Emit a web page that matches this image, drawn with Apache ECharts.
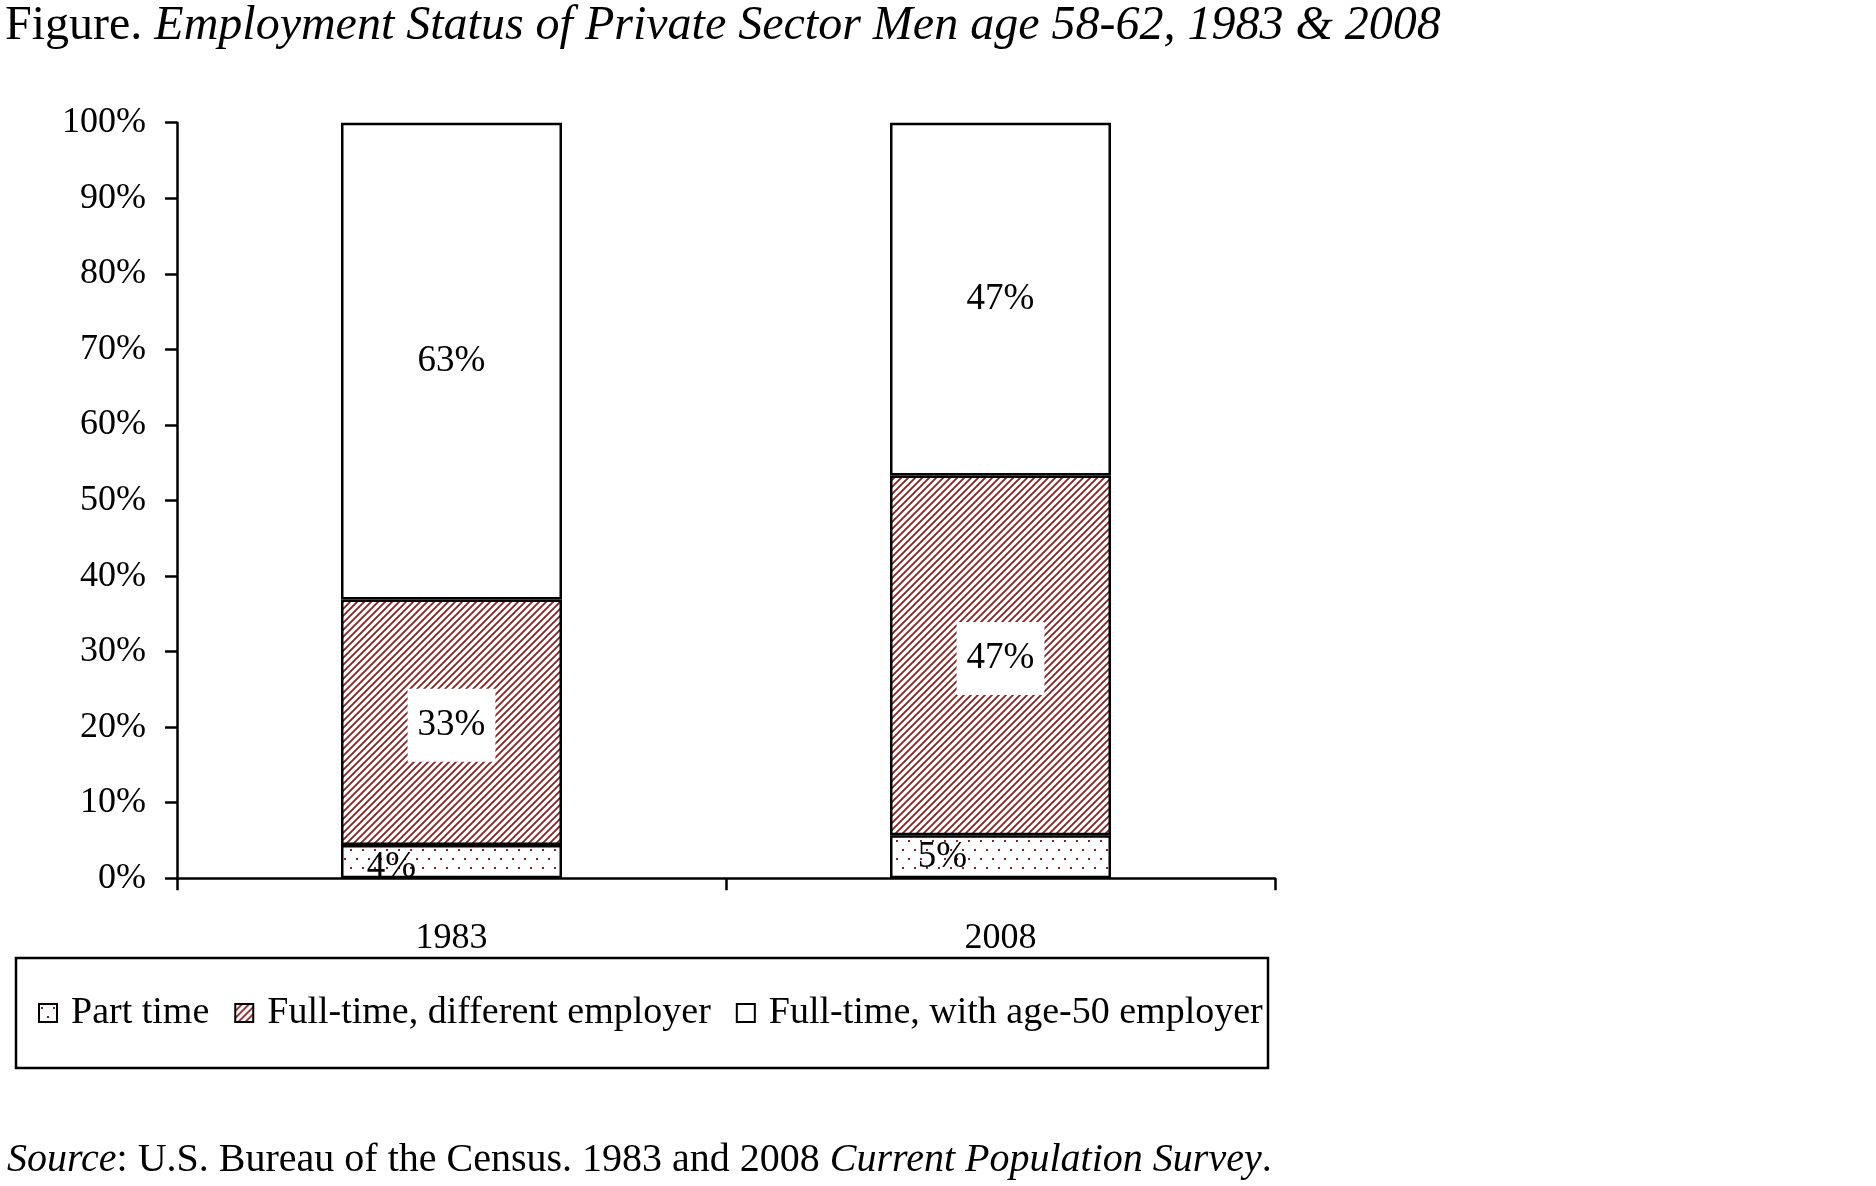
<!DOCTYPE html>
<html>
<head>
<meta charset="utf-8">
<script src="https://cdn.jsdelivr.net/npm/echarts@6/dist/echarts.min.js"></script>
<style>
html,body{margin:0;padding:0;background:#fff;}
#chart{width:1876px;height:1186px;}
</style>
</head>
<body>
<div id="chart"></div>
<script>
// ---- data ----
var categories = ['1983', '2008'];
var seriesNames = ['Part time', 'Full-time, different employer', 'Full-time, with age-50 employer'];
var partTime = [4.4, 5.7];
var fullTimeDifferent = [32.5, 47.6];
var fullTimeAge50 = [63.1, 46.7];
var partTimeLabels = ['4%', '5%'];
var fullTimeDifferentLabels = ['33%', '47%'];
var fullTimeAge50Labels = ['63%', '47%'];
var yTicks = [0, 10, 20, 30, 40, 50, 60, 70, 80, 90, 100];

var FONT = '"Liberation Serif", "Times New Roman", serif';
var RED = '#8a2020';

function makeHatch() {
  var c = document.createElement('canvas');
  c.width = 7; c.height = 7;
  var g = c.getContext('2d');
  g.fillStyle = '#fff'; g.fillRect(0, 0, 7, 7);
  g.strokeStyle = RED; g.lineWidth = 1.8;
  g.beginPath();
  g.moveTo(-1, 8); g.lineTo(8, -1);
  g.moveTo(-8, 8); g.lineTo(1, -1);
  g.moveTo(6, 8); g.lineTo(15, -1);
  g.stroke();
  return c;
}
function makeDots() {
  var c = document.createElement('canvas');
  c.width = 12; c.height = 18;
  var g = c.getContext('2d');
  g.fillStyle = '#fff'; g.fillRect(0, 0, 12, 18);
  g.fillStyle = RED;
  g.fillRect(2, 3, 2, 2);
  g.fillRect(8, 12, 2, 2);
  return c;
}
var hatch = { image: makeHatch(), repeat: 'repeat' };
var dots = { image: makeDots(), repeat: 'repeat' };

var chart = echarts.init(document.getElementById('chart'), null, { renderer: 'canvas' });

var baseLabel = {
  show: true, position: 'inside', color: '#000',
  fontFamily: FONT, fontSize: 37, fontWeight: 'normal'
};

var option = {
  backgroundColor: '#fff',
  animation: false,
  textStyle: { fontFamily: FONT },
  title: [
    {
      left: 0, top: -3,
      text: '{a|Figure. }{b|Employment Status of Private Sector Men age 58-62, 1983 & 2008}',
      textStyle: {
        fontWeight: 'normal',
        rich: {
          a: { fontFamily: FONT, fontSize: 48, fontWeight: 'normal', color: '#000' },
          b: { fontFamily: FONT, fontSize: 48, fontWeight: 'normal', fontStyle: 'italic', color: '#000' }
        }
      }
    },
    {
      left: 2, top: 1135,
      text: '{i|Source}{n|: U.S. Bureau of the Census. 1983 and 2008 }{i|Current Population Survey}{n|.}',
      textStyle: {
        fontWeight: 'normal',
        rich: {
          i: { fontFamily: FONT, fontSize: 40, fontWeight: 'normal', fontStyle: 'italic', color: '#000' },
          n: { fontFamily: FONT, fontSize: 40, fontWeight: 'normal', color: '#000' }
        }
      }
    }
  ],
  graphic: [
    {
      type: 'rect',
      shape: { x: 16, y: 958, width: 1252, height: 110 },
      style: { fill: 'none', stroke: '#000', lineWidth: 2.5 },
      z: 10
    }
  ],
  legend: {
    data: seriesNames,
    left: 33, top: 989,
    icon: 'rect',
    itemWidth: 18, itemHeight: 18,
    itemGap: 25,
    itemStyle: { borderColor: '#000', borderWidth: 2 },
    textStyle: { fontFamily: FONT, fontSize: 38, color: '#000', padding: [0, 0, 0, 9] }
  },
  grid: { left: 177, right: 601, top: 122.7, bottom: 307.7, containLabel: false },
  xAxis: {
    type: 'category',
    data: categories,
    boundaryGap: true,
    axisLine: { lineStyle: { color: '#000', width: 2.5 } },
    axisTick: { show: true, length: 12, alignWithLabel: false, lineStyle: { color: '#000', width: 2.5 } },
    axisLabel: { color: '#000', fontFamily: FONT, fontSize: 36, margin: 42 }
  },
  yAxis: {
    type: 'value',
    min: yTicks[0], max: yTicks[yTicks.length - 1], interval: yTicks[1] - yTicks[0],
    axisLine: { show: true, lineStyle: { color: '#000', width: 2.5 } },
    axisTick: { show: true, length: 12, inside: false, lineStyle: { color: '#000', width: 2.5 } },
    axisLabel: { color: '#000', fontFamily: FONT, fontSize: 36, margin: 31, formatter: '{value}%' },
    splitLine: { show: false }
  },
  series: [
    {
      name: seriesNames[0], type: 'bar', stack: 'total', barWidth: 221,
      itemStyle: { color: dots, borderColor: '#000', borderWidth: 2.5 },
      data: partTime.map(function (v, i) {
        return {
          value: v,
          label: Object.assign({}, baseLabel, {
            formatter: partTimeLabels[i],
            offset: i === 0 ? [-60, 6] : [-58, 1]
          })
        };
      })
    },
    {
      name: seriesNames[1], type: 'bar', stack: 'total', barWidth: 221,
      itemStyle: { color: hatch, borderColor: '#000', borderWidth: 2.5 },
      data: fullTimeDifferent.map(function (v, i) {
        return {
          value: v,
          label: Object.assign({}, baseLabel, {
            formatter: fullTimeDifferentLabels[i],
            backgroundColor: '#fff',
            padding: [18, 10, 18, 10],
            offset: [0, 3]
          })
        };
      })
    },
    {
      name: seriesNames[2], type: 'bar', stack: 'total', barWidth: 221,
      itemStyle: { color: '#fff', borderColor: '#000', borderWidth: 2.5 },
      data: fullTimeAge50.map(function (v, i) {
        return {
          value: v,
          label: Object.assign({}, baseLabel, { formatter: fullTimeAge50Labels[i] })
        };
      })
    }
  ]
};
chart.setOption(option);
</script>
</body>
</html>
